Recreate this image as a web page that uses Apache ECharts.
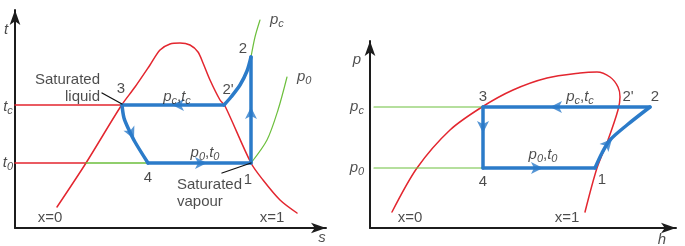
<!DOCTYPE html>
<html><head><meta charset="utf-8">
<script src="https://cdn.jsdelivr.net/npm/echarts@6/dist/echarts.min.js"></script>
<style>html,body{margin:0;padding:0;background:#fff}#c{width:685px;height:246px}</style>
</head><body><div id="c"></div><script>
// ---------- Left panel: t–s diagram (schematic units) ----------
const tsDome = [[42,21],[71,65],[106,122],[120,141],[135,163],[145,178],[155,184],[165,185],[175,183],[183,176],[188,165],[195,148],[205,128],[210,122],[236,65],[248,48],[265,28],[282,15]];
const tsTcLine = [[0,123],[107,123]];
const tsT0Red = [[0,65],[71,65]];
const tsT0Green = [[71,65],[133,65]];
const tsPcIsobar = [[236,171],[240,191],[245,208]];
const tsP0Isobar = [[236,65],[252,88],[263,118],[272,151]];
const tsStraight = [[[236,65],[236,171]], [[209,123],[107,123]], [[133,65],[236,65]]];
const tsCurve2to2p = [[236,171],[232,157],[225,143],[216,131],[209,123]];
const tsCurve3to4 = [[107,123],[109,110],[114,98],[120,86],[133,65]];
const tsArrows = [[157,123,90],[192,65,-90],[236,121,0],[119,89,205]];
const tsLeaders = [[[87,135],[107,124]], [[207,55],[236,65]]];
const tsTexts = [
  [-9,198,'{v|t}','center'], [-7,121,'{v|t}{s|c}','center'], [-7,65,'{v|t}{s|0}','center'],
  [307,-10,'{v|s}','center'], [35,10,'x=0','center'], [257,10,'x=1','center'],
  [85,140,'Saturated\nliquid','right'], [106,139,'3','center'], [213,138,"2'",'center'],
  [228,179,'2','center'], [255,208,'{v|p}{s|c}','left'], [282,151,'{v|p}{s|0}','left'],
  [162,131,'{v|p}{s|c}{n|,}{v|t}{s|c}','center'], [190,75,'{v|p}{s|0}{n|,}{v|t}{s|0}','center'],
  [133,50,'4','center'], [233,48,'1','center'], [162,35,'Saturated\nvapour','left']
];
// ---------- Right panel: p–h diagram (schematic units) ----------
const phDome = [[22,16],[47,60],[80,98],[112,121],[143,138],[177,150],[210,155],[227,156],[240,151],[248,141],[250,131],[248,118],[238,88],[227,60],[215,16]];
const phPcLine = [[4,121],[113,121]];
const phP0Line = [[4,60],[113,60]];
const phStraight = [[[280,121],[113,121]], [[113,121],[113,60]], [[113,60],[225,60]]];
const phCurve1to2 = [[225,60],[232,75],[240,88],[257,103],[280,121]];
const phArrows = [[180,121,90],[113,95,180],[173,60,-90],[242,89,-42]];
const phTexts = [
  [-13,168,'{v|p}','center'], [-13,121,'{v|p}{s|c}','center'], [-13,60,'{v|p}{s|0}','center'],
  [292,-12,'{v|h}','center'], [113,131,'3','center'], [258,131,"2'",'center'], [285,131,'2','center'],
  [210,131,'{v|p}{s|c}{n|,}{v|t}{s|c}','center'], [173,73,'{v|p}{s|0}{n|,}{v|t}{s|0}','center'],
  [113,46,'4','center'], [232,48,'1','center'], [40,10,'x=0','center'], [197,10,'x=1','center']
];

const RED = '#e3262f', BLUE = '#2b7bc9', GREEN = '#6cbf3c', AX = '#1c1c1c';
const FONT = 'Liberation Sans';
const rich = {
  v: {fontSize: 15, fontStyle: 'italic', fontFamily: FONT, color: '#1e1e1e'},
  s: {fontSize: 11, fontStyle: 'italic', fontFamily: FONT, color: '#1e1e1e', padding: [8,0,0,0]},
  n: {fontSize: 15, fontFamily: FONT, color: '#1e1e1e'}
};
function axes(idx, w, h) {
  const common = {type: 'value', gridIndex: idx, axisTick: {show: false}, axisLabel: {show: false}, splitLine: {show: false},
    axisLine: {show: true, onZero: false, symbol: ['none','arrow'], symbolSize: [8,15], lineStyle: {color: AX, width: 2}}};
  return [Object.assign({min: 0, max: w}, common), Object.assign({min: 0, max: h}, common)];
}
const L = axes(0, 311, 218), R = axes(1, 306, 187);
const series = [];
function line(gi, data, color, width, smooth, z) {
  series.push({type: 'line', xAxisIndex: gi, yAxisIndex: gi, data: data, smooth: smooth ? 0.3 : false, symbol: 'none',
    lineStyle: {color: color, width: width, cap: 'round', join: 'round'}, z: z || 2, silent: true, animation: false, clip: false});
}
function arrows(gi, arr) {
  series.push({type: 'scatter', xAxisIndex: gi, yAxisIndex: gi, symbol: 'arrow', symbolSize: [9,12],
    data: arr.map(a => ({value: [a[0], a[1]], symbolRotate: a[2]})), itemStyle: {color: BLUE}, z: 5, animation: false, silent: true, clip: false});
}
function texts(gi, arr) {
  series.push({type: 'scatter', xAxisIndex: gi, yAxisIndex: gi, symbolSize: 0, clip: false, animation: false, silent: true, z: 6,
    data: arr.map(t => ({value: [t[0], t[1]], label: {show: true, position: 'inside', formatter: t[2], align: t[3], verticalAlign: 'middle',
      fontSize: 15, fontFamily: FONT, color: '#1e1e1e', lineHeight: 17, rich: rich}}))});
}
// left
line(0, tsDome, RED, 1.5, true);
line(0, tsTcLine, RED, 1.5, false);
line(0, tsT0Red, RED, 1.5, false);
line(0, tsT0Green, GREEN, 1.5, false);
line(0, tsPcIsobar, GREEN, 1.2, true);
line(0, tsP0Isobar, GREEN, 1.2, true);
tsStraight.forEach(s => line(0, s, BLUE, 3.5, false, 3));
line(0, tsCurve2to2p, BLUE, 3.5, true, 3);
line(0, tsCurve3to4, BLUE, 3.5, true, 3);
tsLeaders.forEach(s => line(0, s, '#111', 1.3, false, 4));
arrows(0, tsArrows);
texts(0, tsTexts);
// right
line(1, phDome, RED, 1.5, true);
line(1, phPcLine, GREEN, 1.2, false);
line(1, phP0Line, GREEN, 1.2, false);
phStraight.forEach(s => line(1, s, BLUE, 3.5, false, 3));
line(1, phCurve1to2, BLUE, 3.5, true, 3);
arrows(1, phArrows);
texts(1, phTexts);

const chart = echarts.init(document.getElementById('c'), null, {renderer: 'canvas'});
chart.setOption({
  animation: false,
  grid: [{left: 15, top: 10, width: 311, height: 218}, {left: 370, top: 41, width: 306, height: 187}],
  xAxis: [L[0], R[0]], yAxis: [L[1], R[1]],
  series: series
});
</script></body></html>
